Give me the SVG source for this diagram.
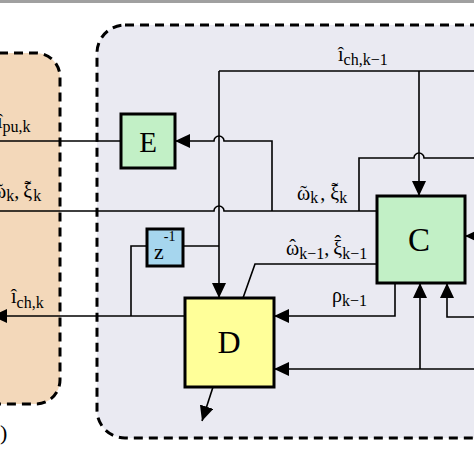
<svg xmlns="http://www.w3.org/2000/svg" width="474" height="474" viewBox="0 0 474 474">
<style>
.ln{fill:none;stroke:#000;stroke-width:1.6}
.box{stroke:#000;stroke-width:3}
.reg{stroke:#000;stroke-width:3;stroke-dasharray:9,6}
.t{font-family:"Liberation Serif","Times New Roman",serif;fill:#000}
.m{font-size:20px}
.s{font-size:16px}
</style>
<defs>
<marker id="ah" markerWidth="15" markerHeight="14" refX="15" refY="7" orient="auto" markerUnits="userSpaceOnUse"><path d="M0,0 L15,7 L0,14 Z" fill="#000"/></marker>
</defs>
<rect x="0" y="0" width="474" height="3" fill="#a0a0a0"/>
<g id="regions">
<rect class="reg" x="-40" y="53" width="100" height="351" rx="24" fill="#f3d8ba"/>
<rect class="reg" x="97" y="25" width="420" height="413" rx="28" fill="#eaeaf2"/>
</g>
<g id="connectors">
<path class="ln" d="M219,71 H480"/>
<path class="ln" d="M419,71 V196" marker-end="url(#ah)"/>
<path class="ln" d="M219,71 V298" marker-end="url(#ah)"/>
<path class="ln" d="M0,141 H121"/>
<path class="ln" d="M272,211 V141 H224 A5,5 0 0 0 214,141 H175" marker-end="url(#ah)"/>
<path class="ln" d="M0,211 H214 A5,5 0 0 1 224,211 H377"/>
<path class="ln" d="M359,211 V158 H414 A5,5 0 0 1 424,158 H480"/>
<path class="ln" d="M183,246 H219"/>
<path class="ln" d="M147,246 H131 V316"/>
<path class="ln" d="M185,316 H-8" marker-end="url(#ah)"/>
<path class="ln" d="M377,264 H255 L243,298"/>
<path class="ln" d="M395,283 V316 H274" marker-end="url(#ah)"/>
<path class="ln" d="M480,369 H274" marker-end="url(#ah)"/>
<path class="ln" d="M420,369 V283" marker-end="url(#ah)"/>
<path class="ln" d="M480,317 H447 V283" marker-end="url(#ah)"/>
<path class="ln" d="M490,236 H465" marker-end="url(#ah)"/>
<path class="ln" d="M213,387 L202,421" marker-end="url(#ah)"/>
</g>
<g id="E">
<rect class="box" x="121" y="114" width="54" height="54" fill="#c2f0c6"/>
<text class="t" x="148" y="152" font-size="29" text-anchor="middle">E</text>
</g>
<g id="C">
<rect class="box" x="377" y="196" width="88" height="87" fill="#c2f0c6"/>
<text class="t" x="419" y="251" font-size="33" text-anchor="middle">C</text>
</g>
<g id="D">
<rect class="box" x="185" y="298" width="89" height="89" fill="#ffff99"/>
<text class="t" x="229" y="353" font-size="32" text-anchor="middle">D</text>
</g>
<g id="Z">
<rect class="box" x="147" y="229" width="36" height="37" fill="#a6d6ee"/>
<text class="t" x="154" y="259" font-size="22">z<tspan font-size="14" dx="0" dy="-18">-1</tspan></text>
</g>
<g id="labels">
<text class="t m" x="338" y="61">î<tspan class="s" dy="4">ch,k−1</tspan></text>
<text class="t m" x="297" y="200">ω<tspan dx="-9.9">˜</tspan><tspan class="s" dx="3.3" dy="3">k</tspan><tspan dx="2" dy="-3">,</tspan><tspan dx="5">ξ</tspan><tspan dx="-7.6" dy="-3">˜</tspan><tspan class="s" dx="1" dy="6">k</tspan></text>
<text class="t m" x="286" y="255">ω<tspan dx="-9.9" dy="-1">ˆ</tspan><tspan class="s" dx="3.3" dy="5">k−1</tspan><tspan dy="-4">,</tspan><tspan dx="4">ξ</tspan><tspan dx="-7.6" dy="-5">ˆ</tspan><tspan class="s" dx="1" dy="9">k−1</tspan></text>
<text class="t m" x="332" y="302">ρ<tspan class="s" dy="4">k−1</tspan></text>
<text class="t m" x="-3" y="128">î<tspan class="s" dy="4">pu,k</tspan></text>
<text class="t m" x="-7" y="198">ω<tspan dx="-9.9">˜</tspan><tspan class="s" dx="3.3" dy="3">k</tspan><tspan dy="-3">,</tspan><tspan dx="4">ξ</tspan><tspan dx="-7.6" dy="-3">˜</tspan><tspan class="s" dx="2" dy="6">k</tspan></text>
<text class="t m" x="11" y="303">î<tspan class="s" dy="5">ch,k</tspan></text>
<text class="t" x="0" y="440" font-size="22">)</text>
</g>
</svg>
